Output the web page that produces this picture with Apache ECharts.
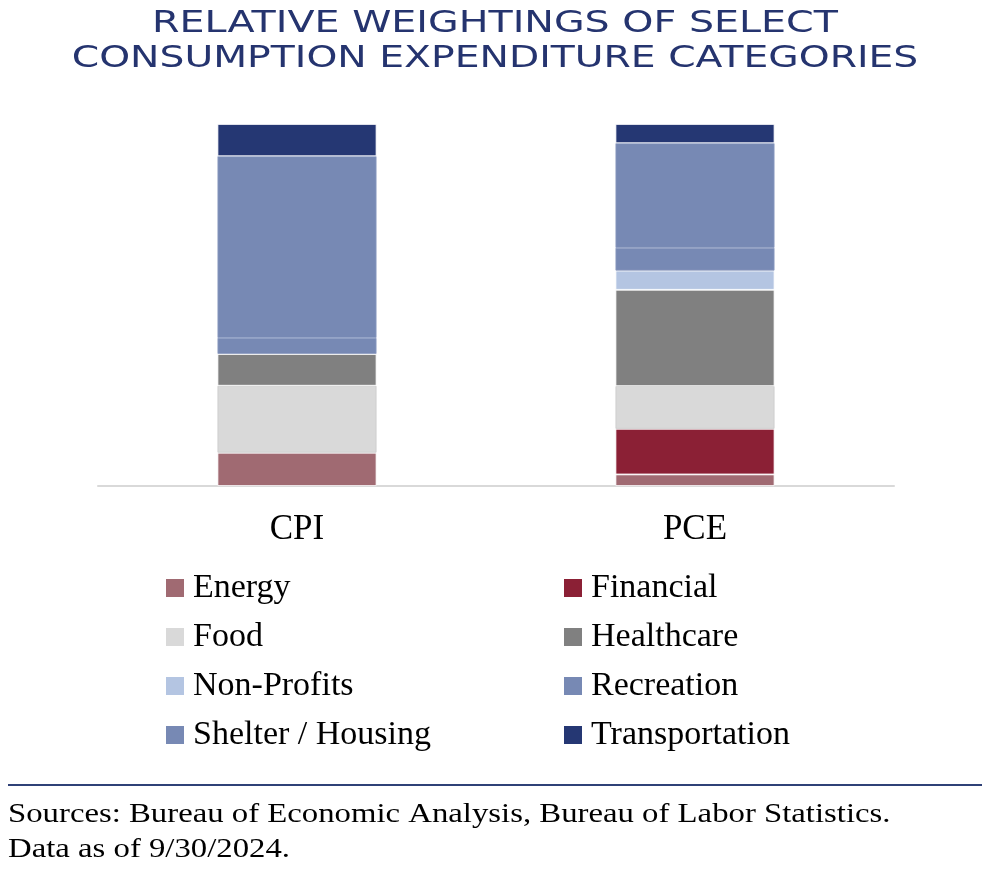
<!DOCTYPE html>
<html>
<head>
<meta charset="utf-8">
<script src="https://cdn.jsdelivr.net/npm/echarts@6/dist/echarts.min.js"></script>
<style>html,body{margin:0;padding:0;background:#fff}#c{width:990px;height:870px}</style>
</head>
<body>
<div id="c"></div>
<script>
const categories = ['CPI', 'PCE'];
const energy = [9.2, 3.2];
const financial = [0, 12.6];
const food = [18.5, 11.8];
const healthcare = [8.8, 26.6];
const nonProfits = [0, 5.3];
const recreation = [4.4, 6.3];
const shelter = [50.2, 28.9];
const transportation = [8.9, 5.3];

const seriesDefs = [
  ['Energy', energy, '#a06a72', '#ffffff'],
  ['Financial', financial, '#8b2035', '#ffffff'],
  ['Food', food, '#d9d9d9', '#cccccc'],
  ['Healthcare', healthcare, '#808080', '#ffffff'],
  ['Non-Profits', nonProfits, '#b4c5e2', '#ffffff'],
  ['Recreation', recreation, '#7789b4', '#8d9cc2'],
  ['Shelter / Housing', shelter, '#7789b4', '#8d9cc2'],
  ['Transportation', transportation, '#253773', '#ffffff']
];

const serif = 'Liberation Serif';
const chart = echarts.init(document.getElementById('c'));
const legendText = { fontFamily: serif, fontSize: 34, color: '#000', lineHeight: 34, padding: [0, 0, 0, 4] };
const legendBase = { orient: 'vertical', top: 571, padding: 0, itemWidth: 18, itemHeight: 18, itemGap: 15,
  icon: 'rect', textStyle: legendText, itemStyle: { borderWidth: 0 } };
chart.setOption({
  animation: false,
  grid: { left: 98, right: 96, top: 124, bottom: 384 },
  xAxis: {
    type: 'category', data: categories,
    axisLine: { lineStyle: { color: '#d9d9d9', width: 2 } },
    axisTick: { show: false },
    axisLabel: { fontFamily: serif, fontSize: 35, color: '#000', margin: 26 }
  },
  yAxis: { type: 'value', min: 0, max: 100, show: false, splitLine: { show: false } },
  legend: [
    Object.assign({ left: 166, data: ['Energy', 'Food', 'Non-Profits', 'Shelter / Housing'] }, legendBase),
    Object.assign({ left: 564, data: ['Financial', 'Healthcare', 'Recreation', 'Transportation'] }, legendBase)
  ],
  series: seriesDefs.map(([name, vals, color, border]) => ({
    name, type: 'bar', stack: 'total', barWidth: 159, data: vals,
    itemStyle: { color, borderColor: border, borderWidth: 0.8 }
  })),
  graphic: [
    { type: 'text', x: 495, y: 24, scaleX: 1.32, style: { text: 'RELATIVE WEIGHTINGS OF SELECT', font: '30px "DejaVu Sans"', fill: '#25346f', textAlign: 'center', textVerticalAlign: 'middle' } },
    { type: 'text', x: 495, y: 59, scaleX: 1.31, style: { text: 'CONSUMPTION EXPENDITURE CATEGORIES', font: '30px "DejaVu Sans"', fill: '#25346f', textAlign: 'center', textVerticalAlign: 'middle' } },
    { type: 'line', shape: { x1: 8, y1: 785, x2: 982, y2: 785 }, style: { stroke: '#2f4177', lineWidth: 2 } },
    { type: 'text', x: 8, y: 815, scaleX: 1.17, style: { text: 'Sources: Bureau of Economic Analysis, Bureau of Labor Statistics.', font: '28px "Liberation Serif"', fill: '#000', textVerticalAlign: 'middle' } },
    { type: 'text', x: 8, y: 850, scaleX: 1.17, style: { text: 'Data as of 9/30/2024.', font: '28px "Liberation Serif"', fill: '#000', textVerticalAlign: 'middle' } }
  ]
});
</script>
</body>
</html>
